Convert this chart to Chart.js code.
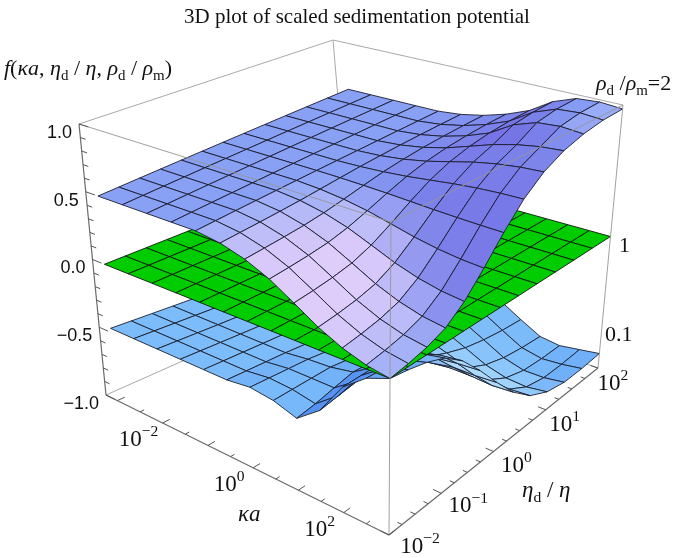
<!DOCTYPE html>
<html><head><meta charset="utf-8">
<script src="https://cdn.jsdelivr.net/npm/chart.js@4/dist/chart.umd.min.js"></script>
<style>html,body{margin:0;padding:0;background:#fff}canvas{display:block}</style>
</head><body>
<canvas id="c" width="685" height="558"></canvas>
<script>
// ---- data ----
const kappaLog = [-3,-2.5,-2,-1.5,-1,-0.5,0,0.5,1,1.5,2,2.5,3];           // log10(κa) grid
const etaLog = [-2,-1.667,-1.333,-1,-0.667,-0.333,0,0.333,0.667,1,1.333,1.667,2]; // log10(ηd/η) grid
const rhoLabels = ["ρd/ρm=2","1","0.1"];
const zTicks = [-1.0,-0.5,0.0,0.5,1.0];
const kappaTickLabels = [-2,0,2];
const etaTickLabels = [-2,-1,0,1,2];
// f for ρd/ρm = 2 (rows: κa, cols: ηd/η)
const surfRho2 = [
 [.50,.51,.52,.53,.54,.55,.56,.57,.58,.59,.60,.61,.62],
 [.50,.51,.52,.53,.54,.55,.56,.57,.58,.59,.60,.61,.62],
 [.50,.51,.52,.53,.54,.55,.56,.57,.58,.59,.60,.61,.62],
 [.50,.51,.52,.53,.54,.55,.56,.57,.58,.59,.60,.61,.62],
 [.50,.51,.52,.53,.54,.55,.56,.57,.58,.59,.60,.61,.62],
 [.475,.486,.497,.509,.523,.540,.558,.576,.591,.605,.617,.628,.638],
 [.425,.437,.450,.466,.489,.520,.554,.587,.613,.634,.650,.663,.673],
 [.350,.363,.379,.401,.438,.490,.548,.603,.646,.677,.699,.715,.725],
 [.250,.265,.285,.315,.370,.450,.540,.625,.690,.735,.765,.785,.795],
 [.150,.167,.191,.229,.302,.410,.532,.647,.734,.793,.870,.895,.905],
 [.075,.094,.121,.165,.251,.380,.526,.664,.767,.837,.930,.960,.970],
 [.025,.045,.074,.122,.217,.360,.522,.675,.789,.866,.944,.973,.983],
 [0,.02,.05,.10,.20,.35,.52,.68,.80,.88,.93,.96,.97]
];
// f for ρd/ρm = 1
const surfRho1 = [
 [0,0,0,0,0,0,0,0,0,0,0,0,0],[0,0,0,0,0,0,0,0,0,0,0,0,0],[0,0,0,0,0,0,0,0,0,0,0,0,0],
 [0,0,0,0,0,0,0,0,0,0,0,0,0],[0,0,0,0,0,0,0,0,0,0,0,0,0],[0,0,0,0,0,0,0,0,0,0,0,0,0],
 [0,0,0,0,0,0,0,0,0,0,0,0,0],[0,0,0,0,0,0,0,0,0,0,0,0,0],[0,0,0,0,0,0,0,0,0,0,0,0,0],
 [0,0,0,0,0,0,0,0,0,0,0,0,0],[0,0,0,0,0,0,0,0,0,0,0,0,0],[0,0,0,0,0,0,0,0,0,0,0,0,0],
 [0,0,0,0,0,0,0,0,0,0,0,0,0]
];
// f for ρd/ρm = 0.1
const surfRho01 = [
 [-.47,-.48,-.49,-.50,-.51,-.52,-.53,-.54,-.55,-.56,-.57,-.58,-.59],
 [-.47,-.48,-.49,-.50,-.51,-.52,-.53,-.54,-.55,-.56,-.57,-.58,-.59],
 [-.47,-.48,-.49,-.50,-.51,-.52,-.53,-.54,-.55,-.56,-.57,-.58,-.59],
 [-.47,-.48,-.49,-.50,-.51,-.52,-.53,-.54,-.55,-.56,-.57,-.58,-.59],
 [-.47,-.48,-.49,-.50,-.51,-.52,-.53,-.54,-.55,-.56,-.57,-.58,-.59],
 [-.47,-.48,-.49,-.50,-.515,-.53,-.55,-.565,-.58,-.59,-.60,-.61,-.62],
 [-.45,-.46,-.47,-.48,-.50,-.53,-.56,-.59,-.61,-.63,-.64,-.65,-.66],
 [-.47,-.47,-.47,-.47,-.49,-.53,-.58,-.63,-.67,-.70,-.72,-.73,-.74],
 [-.52,-.50,-.47,-.44,-.45,-.50,-.58,-.66,-.72,-.77,-.80,-.82,-.83],
 [-.40,-.38,-.36,-.34,-.37,-.45,-.56,-.68,-.77,-.84,-.88,-.90,-.91],
 [-.18,-.18,-.18,-.20,-.26,-.38,-.53,-.68,-.80,-.88,-.92,-.93,-.93],
 [-.06,-.07,-.09,-.13,-.22,-.36,-.53,-.69,-.81,-.89,-.92,-.92,-.91],
 [0,-.02,-.05,-.10,-.20,-.35,-.52,-.68,-.80,-.87,-.90,-.90,-.89]
];

// ---- projection of the box (screen corners) ----
const KMIN=-3.25,KMAX=3,EMIN=-2,EMAX=2;
const C = {L:[106,395],F:[389,535],R:[598,368],B:[354,285],TL:[79,124],TF:[391,222],TR:[623,105],TB:[333,40]};
function bil(a,b,c,d,u,v){return [(1-u)*(1-v)*a[0]+u*(1-v)*b[0]+u*v*c[0]+(1-u)*v*d[0],(1-u)*(1-v)*a[1]+u*(1-v)*b[1]+u*v*c[1]+(1-u)*v*d[1]];}
function Puvw(u,v,w){const b=bil(C.L,C.F,C.R,C.B,u,v),t=bil(C.TL,C.TF,C.TR,C.TB,u,v);return {x:b[0]*(1-w)+t[0]*w,y:b[1]*(1-w)+t[1]*w};}
const U=k=>(k-KMIN)/(KMAX-KMIN), V=e=>(e-EMIN)/(EMAX-EMIN), W=z=>(z+1)/2;
function P(k,e,z){return Puvw(U(k),V(e),W(z));}

const clamp=(x,a,b)=>Math.max(a,Math.min(b,x));
const mix=(c1,c2,t)=>c1.map((v,i)=>Math.round(v+(c2[i]-v)*t));
function colTop(nx,ny){let c=mix([138,165,246],[222,204,250],clamp(nx*2.2,0,1));return mix(c,[118,116,230],clamp(-ny*1.3-nx*1.5,0,1));}
function colBot(nx,ny){let c=mix([118,184,250],[178,224,252],clamp(ny*1.6,0,1));return mix(c,[80,140,240],clamp(-nx*1.5,0,1));}
function colGreen(){return [0,204,0];}

const quads=[];
function addSurface(Z,colFn,stroke){
  for(let i=0;i<kappaLog.length-1;i++)for(let j=0;j<etaLog.length-1;j++){
    const k0=kappaLog[i],k1=kappaLog[i+1],e0=etaLog[j],e1=etaLog[j+1];
    const z00=Z[i][j],z10=Z[i+1][j],z11=Z[i+1][j+1],z01=Z[i][j+1];
    const pts=[P(k0,e0,z00),P(k1,e0,z10),P(k1,e1,z11),P(k0,e1,z01),P(k0,e0,z00)];
    const du=U(k1)-U(k0),dv=V(e1)-V(e0);
    const gx=((W(z10)+W(z11))-(W(z00)+W(z01)))/2/du, gy=((W(z01)+W(z11))-(W(z00)+W(z10)))/2/dv;
    const nn=Math.hypot(gx,gy,1),nx=-gx/nn,ny=-gy/nn;
    const uc=(U(k0)+U(k1))/2,vc=(V(e0)+V(e1))/2,wc=W((z00+z10+z11+z01)/4);
    const depth=((1-uc)+vc)*0.61-wc*0.55;
    const c=colFn(nx,ny);
    quads.push({pts,depth,fill:`rgb(${c[0]},${c[1]},${c[2]})`,stroke});
  }
}
addSurface(surfRho01,colBot,'#1c2030');
addSurface(surfRho1,colGreen,'#0d1a0d');
addSurface(surfRho2,colTop,'#1c1c30');
quads.sort((a,b)=>b.depth-a.depth); // far -> near

function seg(a,b){return [{x:a[0],y:a[1]},{x:b[0],y:b[1]}];}
function lineDs(data,color,w){return {data,borderColor:color,borderWidth:w,fill:false,pointRadius:0,tension:0,spanGaps:false};}
const backEdges=[seg(C.L,C.B),seg(C.B,C.R),seg(C.B,C.TB),seg(C.TL,C.TB),seg(C.TB,C.TR)];
const frontLight=[seg(C.F,C.TF),seg(C.TL,C.TF),seg(C.TF,C.TR),seg(C.R,C.TR)];
const axesDark=[seg(C.L,C.F),seg(C.F,C.R),seg(C.L,C.TL)];

// ticks
const tickPts=[];
function tick(p,q){tickPts.push({x:p.x,y:p.y},{x:q.x,y:q.y},{x:q.x,y:null});}
for(let k=-3;k<=3;k+=0.5){const L=Number.isInteger(k)?0.03:0.017;const a=P(k,EMIN,-1),b=Puvw(U(k),L,0);tick(a,b);}
for(let e=-2;e<=2;e+=0.25){const L=Number.isInteger(e)?0.03:0.017;const a=P(KMAX,e,-1),b=Puvw(1-L,V(e),0);tick(a,b);}
for(let z=-1;z<=1.001;z+=0.1){const big=Math.abs(Math.round(z*10)%5)===0;const a=P(KMIN,EMIN,z),b=Puvw(big?0.03:0.017,0,W(z));tick(a,b);}

const datasets=[];
backEdges.forEach(s=>datasets.push(lineDs(s,'#a8a8a8',1)));
quads.forEach(q=>datasets.push({data:q.pts,backgroundColor:q.fill,borderColor:q.stroke,borderWidth:0.9,fill:'shape',pointRadius:0,tension:0}));
frontLight.forEach(s=>datasets.push(lineDs(s,'rgba(150,150,150,0.9)',1)));
axesDark.forEach(s=>datasets.push(lineDs(s,'#6a6a6a',1.2)));
datasets.push(lineDs(tickPts,'#555',1));
datasets.reverse(); // index 0 is drawn last

// ---- text ----
const SERIF='"Liberation Serif","DejaVu Serif",serif', SANS='"Liberation Sans Narrow","Liberation Sans",Arial,sans-serif';
function runs(ctx,x,y,parts,size){
  for(const [t,s] of parts){
    let f=size,dy=0,st='';
    if(s==='i')st='italic ';
    if(s==='sub'){f=size*0.68;dy=size*0.22;}
    if(s==='sup'){f=size*0.68;dy=-size*0.42;}
    ctx.font=`${st}${f}px ${SERIF}`;ctx.fillText(t,x,y+dy);x+=ctx.measureText(t).width;
  }
  return x;
}
function widthRuns(ctx,parts,size){let x=0;for(const [t,s] of parts){let f=(s==='sub'||s==='sup')?size*0.68:size;ctx.font=`${s==='i'?'italic ':''}${f}px ${SERIF}`;x+=ctx.measureText(t).width;}return x;}
function pow10(ctx,cx,cy,e,size){
  const parts=[["10","n"],[e<0?"\u2212"+(-e):String(e),"sup"]];
  const w=widthRuns(ctx,parts,size);runs(ctx,cx-w/2,cy+size*0.35,parts,size);
}
const textPlugin={id:'txt',afterDraw(chart){
  const ctx=chart.ctx;ctx.save();ctx.fillStyle='#111';ctx.textAlign='left';ctx.textBaseline='alphabetic';
  ctx.font=`21px ${SERIF}`;const title="3D plot of scaled sedimentation potential";
  ctx.fillText(title,357-ctx.measureText(title).width/2,23);
  runs(ctx,4,75,[["f","i"],["(","n"],["κa","i"],[", ","n"],["η","i"],["d","sub"],[" / ","n"],["η","i"],[", ","n"],["ρ","i"],["d","sub"],[" / ","n"],["ρ","i"],["m","sub"],[")","n"]],22);
  // z tick labels
  ctx.font=`18px ${SANS}`;ctx.textAlign='right';ctx.textBaseline='middle';
  zTicks.forEach(z=>{const p=P(KMIN,EMIN,z);ctx.fillText((z<0?"\u2212":"")+Math.abs(z).toFixed(1),p.x-7,p.y+9);});
  ctx.textAlign='left';ctx.textBaseline='alphabetic';
  kappaTickLabels.forEach(k=>{const p=P(k,EMIN,-1);pow10(ctx,p.x-24,p.y+15,k,23);});
  etaTickLabels.forEach(e=>{const p=P(KMAX,e,-1);const t=V(e);pow10(ctx,p.x+31-16*t,p.y+10+4*t,e,23);});
  runs(ctx,238,521,[["κa","i"]],23);
  runs(ctx,522,497,[["η","i"],["d","sub"],[" / ","n"],["η","i"]],23);
  // ρ labels on right
  runs(ctx,596,90,[["ρ","i"],["d","sub"],[" /","n"],["ρ","i"],["m","sub"],["=2","n"]],22);
  runs(ctx,619,252,[["1","n"]],22);
  runs(ctx,605,341,[["0.1","n"]],22);
  ctx.restore();
}};

new Chart(document.getElementById('c'),{
  type:'line',
  data:{datasets},
  options:{responsive:false,animation:false,events:[],
    layout:{padding:0},
    scales:{x:{type:'linear',min:0,max:685,display:false},y:{type:'linear',min:0,max:558,reverse:true,display:false}},
    plugins:{legend:{display:false},tooltip:{enabled:false},filler:{drawTime:'beforeDatasetDraw'}}
  },
  plugins:[textPlugin]
});
</script>
</body></html>
